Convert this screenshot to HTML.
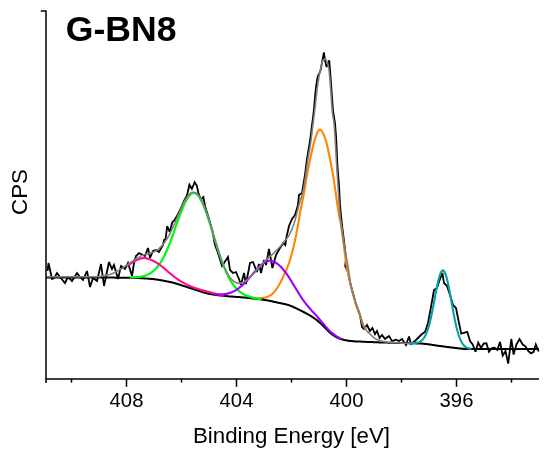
<!DOCTYPE html>
<html><head><meta charset="utf-8"><title>G-BN8</title>
<style>
html,body{margin:0;padding:0;background:#fff;}
body{width:550px;height:457px;overflow:hidden;}
svg{display:block;}
text{font-family:"Liberation Sans",sans-serif;fill:#000;}
</style></head><body>
<svg width="550" height="457" viewBox="0 0 550 457">
<rect width="550" height="457" fill="#fff"/>
<g fill="none" stroke-linejoin="round" stroke-linecap="butt">
<path d="M47.5,271.0 L48.5,263.0 L52.0,279.0 L54.0,278.0 L57.0,273.0 L60.0,277.0 L65.0,283.0 L68.0,277.0 L72.0,281.0 L77.0,273.0 L80.0,277.0 L83.0,280.0 L87.0,271.0 L90.0,287.0 L93.0,278.0 L97.0,281.0 L101.0,264.0 L104.0,286.0 L109.0,262.0 L112.0,269.0 L114.0,265.0 L118.0,279.0 L121.0,266.0 L125.0,269.0 L128.0,263.0 L132.0,276.0 L134.0,263.0 L136.0,256.0 L139.0,253.0 L145.0,256.0 L148.0,248.0 L150.0,258.0 L153.0,251.0 L156.0,250.0 L159.0,252.0 L163.0,245.0 L164.0,240.0 L165.6,239.0 L167.2,226.0 L169.7,232.0 L172.2,222.5 L174.6,220.0 L177.0,216.0 L178.7,212.6 L181.0,208.0 L184.0,201.0 L187.0,195.4 L189.4,184.7 L191.9,188.8 L194.7,182.2 L196.8,185.5 L198.4,193.0 L200.9,199.5 L203.4,197.0 L205.0,206.0 L207.5,214.0 L210.0,222.5 L212.4,230.7 L214.0,240.0 L215.0,245.0 L218.0,253.0 L222.0,266.0 L228.0,257.0 L230.0,270.0 L233.0,273.0 L236.0,272.0 L239.0,279.0 L241.0,285.0 L244.0,273.0 L246.0,284.0 L250.0,263.0 L253.0,262.0 L257.0,272.0 L259.0,264.0 L261.0,273.0 L264.0,260.0 L266.0,265.0 L269.0,249.0 L272.4,268.0 L276.0,255.0 L280.0,248.0 L283.5,243.0 L285.3,245.0 L286.5,237.0 L289.0,226.0 L292.0,219.0 L295.0,215.0 L298.0,205.0 L299.0,195.0 L302.0,193.0 L305.0,175.0 L307.0,159.0 L310.0,141.0 L312.0,125.0 L312.6,121.0 L314.0,109.0 L315.0,97.0 L316.0,87.0 L317.6,77.0 L320.7,70.0 L322.5,60.0 L323.9,52.5 L325.0,60.0 L326.6,67.0 L328.3,63.0 L329.2,60.3 L330.2,72.0 L331.0,83.0 L332.0,97.0 L333.0,111.0 L335.0,123.0 L336.0,136.0 L336.5,145.0 L337.4,165.0 L339.0,185.0 L340.0,205.0 L342.0,225.0 L344.5,245.0 L346.0,258.0 L345.2,266.0 L347.6,271.0 L351.0,286.0 L354.0,297.0 L356.0,304.0 L360.0,315.0 L362.0,327.0 L364.0,329.0 L367.0,325.0 L370.0,331.0 L372.4,328.0 L375.0,334.0 L377.0,331.0 L379.6,338.0 L382.0,335.0 L385.0,339.0 L389.0,336.0 L392.0,341.0 L396.0,339.6 L399.0,341.0 L402.0,339.0 L406.0,345.0 L409.0,336.5 L411.0,344.0 L415.0,341.0 L419.0,337.0 L422.0,334.0 L425.0,332.0 L428.0,323.0 L431.0,307.0 L434.0,290.0 L437.0,288.0 L440.0,279.0 L442.4,273.0 L444.0,283.0 L447.0,286.0 L450.0,295.0 L453.0,305.0 L456.0,308.0 L459.0,323.0 L461.3,333.6 L467.3,331.8 L470.0,341.0 L472.7,344.5 L475.5,351.8 L478.2,342.7 L481.0,348.0 L483.6,343.6 L486.4,343.3 L489.0,351.8 L491.8,348.0 L494.5,347.6 L497.3,350.0 L500.0,341.8 L502.7,355.5 L505.5,351.0 L508.2,363.6 L511.3,339.0 L513.6,354.5 L516.4,344.5 L519.5,339.0 L522.7,344.5 L525.5,346.4 L528.2,351.0 L531.0,353.3 L533.6,351.8 L535.8,344.5 L538.7,351.5" stroke="#000" stroke-width="1.8" stroke-linejoin="miter" stroke-miterlimit="3"/>
<path d="M255.0,298.8 L255.5,298.8 L256.0,298.7 L256.5,298.7 L257.0,298.6 L257.5,298.6 L258.0,298.5 L258.5,298.5 L259.0,298.4 L259.5,298.3 L260.0,298.3 L260.5,298.2 L261.0,298.2 L261.5,298.1 L262.0,298.1 L262.5,298.0 L263.0,297.9 L263.5,297.9 L264.0,297.8 L264.5,297.7 L265.0,297.6 L265.5,297.5 L266.0,297.4 L266.5,297.2 L267.0,297.0 L267.5,296.8 L268.0,296.6 L268.5,296.4 L269.0,296.1 L269.5,295.9 L270.0,295.6 L270.5,295.3 L271.0,295.0 L271.5,294.7 L272.0,294.3 L272.5,293.8 L273.0,293.3 L273.5,292.8 L274.0,292.2 L274.5,291.6 L275.0,291.0 L275.5,290.4 L276.0,289.7 L276.5,289.0 L277.0,288.3 L277.5,287.5 L278.0,286.7 L278.5,285.8 L279.0,285.0 L279.5,284.1 L280.0,283.2 L280.5,282.3 L281.0,281.3 L281.5,280.3 L282.0,279.3 L282.5,278.2 L283.0,277.2 L283.5,276.1 L284.0,275.0 L284.5,273.9 L285.0,272.8 L285.5,271.7 L286.0,270.6 L286.5,269.4 L287.0,268.3 L287.5,267.0 L288.0,265.7 L288.5,264.4 L289.0,263.0 L289.5,261.5 L290.0,260.0 L290.5,258.3 L291.0,256.6 L291.5,254.8 L292.0,253.0 L292.5,251.1 L293.0,249.1 L293.5,247.1 L294.0,245.0 L294.5,242.8 L295.0,240.5 L295.5,238.1 L296.0,235.6 L296.5,233.1 L297.0,230.4 L297.5,227.7 L298.0,225.0 L298.5,222.1 L299.0,219.0 L299.5,215.9 L300.0,213.0 L300.5,210.3 L301.0,207.8 L301.5,205.4 L302.0,203.0 L302.5,200.6 L303.0,198.2 L303.5,195.7 L304.0,193.0 L304.5,190.1 L305.0,187.1 L305.5,184.0 L306.0,180.9 L306.5,177.9 L307.0,175.0 L307.5,172.3 L308.0,169.6 L308.5,167.0 L309.0,164.5 L309.5,162.0 L310.0,159.6 L310.5,157.3 L311.0,155.0 L311.5,152.8 L312.0,150.6 L312.5,148.4 L313.0,146.3 L313.5,144.3 L314.0,142.4 L314.5,140.6 L315.0,139.0 L315.5,137.5 L316.0,136.0 L316.5,134.6 L317.0,133.4 L317.5,132.3 L318.0,131.5 L318.5,130.8 L319.0,130.1 L319.5,129.6 L320.0,129.4 L320.5,129.6 L321.0,130.1 L321.5,130.8 L322.0,131.5 L322.5,132.3 L323.0,133.2 L323.5,134.2 L324.0,135.4 L324.5,136.7 L325.0,138.0 L325.5,139.5 L326.0,141.0 L326.5,142.7 L327.0,144.6 L327.5,146.8 L328.0,149.1 L328.5,151.5 L329.0,154.0 L329.5,156.5 L330.0,159.0 L330.5,161.5 L331.0,164.0 L331.5,166.6 L332.0,169.3 L332.5,172.1 L333.0,175.0 L333.5,178.1 L334.0,181.3 L334.5,184.7 L335.0,188.2 L335.5,191.6 L336.0,195.0 L336.5,198.4 L337.0,201.9 L337.5,205.4 L338.0,208.8 L338.5,212.0 L339.0,215.0 L339.5,217.6 L340.0,219.9 L340.5,222.3 L341.0,225.0 L341.5,228.2 L342.0,231.8 L342.5,235.5 L343.0,239.3 L343.5,243.0 L344.0,246.9 L344.5,250.9 L345.0,254.7 L345.5,258.4 L346.0,261.8 L346.5,264.9 L347.0,267.9 L347.5,270.7 L348.0,273.3 L348.5,275.9 L349.0,278.3 L349.5,280.5 L350.0,282.7 L350.5,284.7 L351.0,286.7 L351.5,288.6 L352.0,290.5 L352.5,292.4 L353.0,294.3 L353.5,296.2 L354.0,298.0 L354.5,299.8 L355.0,301.6 L355.5,303.3 L356.0,304.9 L356.5,306.4 L357.0,307.8 L357.5,309.1 L358.0,310.4 L358.5,311.7 L359.0,312.9 L359.5,314.2 L360.0,315.5 L360.5,316.9 L361.0,318.4 L361.5,319.9 L362.0,321.5 L362.5,323.0 L363.0,324.3 L363.5,325.5 L364.0,326.5 L364.5,327.3 L365.0,328.1 L365.5,328.8 L366.0,329.5" stroke="#ff8500" stroke-width="2.1"/>
<path d="M46.0,277.6 L46.5,277.6 L47.0,277.6 L47.5,277.6 L48.0,277.6 L48.5,277.6 L49.0,277.6 L49.5,277.6 L50.0,277.6 L50.5,277.6 L51.0,277.6 L51.5,277.6 L52.0,277.6 L52.5,277.6 L53.0,277.6 L53.5,277.6 L54.0,277.6 L54.5,277.6 L55.0,277.6 L55.5,277.6 L56.0,277.6 L56.5,277.6 L57.0,277.6 L57.5,277.6 L58.0,277.6 L58.5,277.6 L59.0,277.6 L59.5,277.6 L60.0,277.6 L60.5,277.6 L61.0,277.6 L61.5,277.6 L62.0,277.6 L62.5,277.6 L63.0,277.6 L63.5,277.6 L64.0,277.6 L64.5,277.6 L65.0,277.6 L65.5,277.6 L66.0,277.6 L66.5,277.6 L67.0,277.6 L67.5,277.6 L68.0,277.6 L68.5,277.6 L69.0,277.6 L69.5,277.6 L70.0,277.6 L70.5,277.6 L71.0,277.6 L71.5,277.6 L72.0,277.6 L72.5,277.6 L73.0,277.6 L73.5,277.6 L74.0,277.6 L74.5,277.6 L75.0,277.6 L75.5,277.6 L76.0,277.6 L76.5,277.6 L77.0,277.6 L77.5,277.6 L78.0,277.6 L78.5,277.6 L79.0,277.6 L79.5,277.6 L80.0,277.6 L80.5,277.6 L81.0,277.6 L81.5,277.6 L82.0,277.6 L82.5,277.6 L83.0,277.6 L83.5,277.6 L84.0,277.6 L84.5,277.6 L85.0,277.6 L85.5,277.6 L86.0,277.6 L86.5,277.6 L87.0,277.6 L87.5,277.6 L88.0,277.6 L88.5,277.6 L89.0,277.6 L89.5,277.6 L90.0,277.6 L90.5,277.6 L91.0,277.6 L91.5,277.6 L92.0,277.6 L92.5,277.6 L93.0,277.6 L93.5,277.6 L94.0,277.6 L94.5,277.6 L95.0,277.6 L95.5,277.6 L96.0,277.6 L96.5,277.6 L97.0,277.6 L97.5,277.6 L98.0,277.6 L98.5,277.6 L99.0,277.6 L99.5,277.6 L100.0,277.6 L100.5,277.6 L101.0,277.6 L101.5,277.6 L102.0,277.6 L102.5,277.6 L103.0,277.6 L103.5,277.6 L104.0,277.6 L104.5,277.6 L105.0,277.6 L105.5,277.6 L106.0,277.6 L106.5,277.6 L107.0,277.6 L107.5,277.6 L108.0,277.6 L108.5,277.6 L109.0,277.6 L109.5,277.6 L110.0,277.6 L110.5,277.6 L111.0,277.6 L111.5,277.6 L112.0,277.6 L112.5,277.6 L113.0,277.6 L113.5,277.6 L114.0,277.6 L114.5,277.7 L115.0,277.7 L115.5,277.7 L116.0,277.7 L116.5,277.7 L117.0,277.7 L117.5,277.7 L118.0,277.7 L118.5,277.7 L119.0,277.7 L119.5,277.7 L120.0,277.7 L120.5,277.7 L121.0,277.7 L121.5,277.7 L122.0,277.7 L122.5,277.7 L123.0,277.7 L123.5,277.7 L124.0,277.7 L124.5,277.7 L125.0,277.7 L125.5,277.7 L126.0,277.8 L126.5,277.8 L127.0,277.8 L127.5,277.8 L128.0,277.8 L128.5,277.8 L129.0,277.8 L129.5,277.8 L130.0,277.8 L130.5,277.8 L131.0,277.8 L131.5,277.8 L132.0,277.8 L132.5,277.8 L133.0,277.9 L133.5,277.9 L134.0,277.9 L134.5,277.9 L135.0,277.9 L135.5,277.9 L136.0,278.0 L136.5,278.0 L137.0,278.0 L137.5,278.0 L138.0,278.0 L138.5,278.1 L139.0,278.1 L139.5,278.1 L140.0,278.1 L140.5,278.2 L141.0,278.2 L141.5,278.2 L142.0,278.3 L142.5,278.3 L143.0,278.3 L143.5,278.3 L144.0,278.4 L144.5,278.4 L145.0,278.4 L145.5,278.5 L146.0,278.5 L146.5,278.5 L147.0,278.6 L147.5,278.6 L148.0,278.7 L148.5,278.7 L149.0,278.7 L149.5,278.8 L150.0,278.8 L150.5,278.8 L151.0,278.9 L151.5,278.9 L152.0,279.0 L152.5,279.0 L153.0,279.1 L153.5,279.1 L154.0,279.2 L154.5,279.3 L155.0,279.3 L155.5,279.4 L156.0,279.5 L156.5,279.5 L157.0,279.6 L157.5,279.7 L158.0,279.7 L158.5,279.8 L159.0,279.9 L159.5,280.0 L160.0,280.1 L160.5,280.2 L161.0,280.2 L161.5,280.3 L162.0,280.4 L162.5,280.5 L163.0,280.6 L163.5,280.7 L164.0,280.8 L164.5,280.9 L165.0,281.0 L165.5,281.1 L166.0,281.2 L166.5,281.3 L167.0,281.4 L167.5,281.5 L168.0,281.6 L168.5,281.7 L169.0,281.8 L169.5,281.9 L170.0,282.0 L170.5,282.1 L171.0,282.2 L171.5,282.3 L172.0,282.5 L172.5,282.6 L173.0,282.7 L173.5,282.8 L174.0,283.0 L174.5,283.1 L175.0,283.2 L175.5,283.4 L176.0,283.5 L176.5,283.7 L177.0,283.8 L177.5,284.0 L178.0,284.1 L178.5,284.3 L179.0,284.5 L179.5,284.6 L180.0,284.8 L180.5,284.9 L181.0,285.1 L181.5,285.3 L182.0,285.4 L182.5,285.6 L183.0,285.8 L183.5,285.9 L184.0,286.1 L184.5,286.2 L185.0,286.4 L185.5,286.6 L186.0,286.7 L186.5,286.9 L187.0,287.1 L187.5,287.2 L188.0,287.4 L188.5,287.5 L189.0,287.7 L189.5,287.8 L190.0,288.0 L190.5,288.2 L191.0,288.3 L191.5,288.5 L192.0,288.6 L192.5,288.8 L193.0,288.9 L193.5,289.1 L194.0,289.3 L194.5,289.4 L195.0,289.6 L195.5,289.8 L196.0,289.9 L196.5,290.1 L197.0,290.3 L197.5,290.5 L198.0,290.6 L198.5,290.8 L199.0,291.0 L199.5,291.1 L200.0,291.3 L200.5,291.5 L201.0,291.6 L201.5,291.8 L202.0,291.9 L202.5,292.1 L203.0,292.3 L203.5,292.4 L204.0,292.5 L204.5,292.7 L205.0,292.8 L205.5,293.0 L206.0,293.1 L206.5,293.2 L207.0,293.4 L207.5,293.5 L208.0,293.6 L208.5,293.7 L209.0,293.8 L209.5,293.9 L210.0,294.0 L210.5,294.1 L211.0,294.2 L211.5,294.3 L212.0,294.3 L212.5,294.4 L213.0,294.5 L213.5,294.6 L214.0,294.7 L214.5,294.7 L215.0,294.8 L215.5,294.9 L216.0,294.9 L216.5,295.0 L217.0,295.1 L217.5,295.2 L218.0,295.2 L218.5,295.3 L219.0,295.3 L219.5,295.4 L220.0,295.5 L220.5,295.5 L221.0,295.6 L221.5,295.6 L222.0,295.7 L222.5,295.7 L223.0,295.8 L223.5,295.8 L224.0,295.9 L224.5,295.9 L225.0,296.0 L225.5,296.0 L226.0,296.1 L226.5,296.1 L227.0,296.2 L227.5,296.2 L228.0,296.3 L228.5,296.3 L229.0,296.4 L229.5,296.4 L230.0,296.4 L230.5,296.5 L231.0,296.5 L231.5,296.6 L232.0,296.6 L232.5,296.6 L233.0,296.7 L233.5,296.7 L234.0,296.7 L234.5,296.8 L235.0,296.8 L235.5,296.8 L236.0,296.9 L236.5,296.9 L237.0,297.0 L237.5,297.0 L238.0,297.0 L238.5,297.1 L239.0,297.1 L239.5,297.1 L240.0,297.2 L240.5,297.2 L241.0,297.3 L241.5,297.3 L242.0,297.3 L242.5,297.4 L243.0,297.4 L243.5,297.5 L244.0,297.5 L244.5,297.6 L245.0,297.6 L245.5,297.6 L246.0,297.7 L246.5,297.7 L247.0,297.8 L247.5,297.8 L248.0,297.9 L248.5,297.9 L249.0,298.0 L249.5,298.0 L250.0,298.1 L250.5,298.2 L251.0,298.2 L251.5,298.3 L252.0,298.3 L252.5,298.4 L253.0,298.4 L253.5,298.5 L254.0,298.5 L254.5,298.6 L255.0,298.7 L255.5,298.7 L256.0,298.8 L256.5,298.8 L257.0,298.9 L257.5,299.0 L258.0,299.0 L258.5,299.1 L259.0,299.2 L259.5,299.2 L260.0,299.3 L260.5,299.3 L261.0,299.4 L261.5,299.5 L262.0,299.6 L262.5,299.6 L263.0,299.7 L263.5,299.8 L264.0,299.8 L264.5,299.9 L265.0,300.0 L265.5,300.1 L266.0,300.2 L266.5,300.2 L267.0,300.3 L267.5,300.4 L268.0,300.5 L268.5,300.6 L269.0,300.7 L269.5,300.8 L270.0,300.9 L270.5,301.0 L271.0,301.1 L271.5,301.2 L272.0,301.3 L272.5,301.4 L273.0,301.5 L273.5,301.7 L274.0,301.8 L274.5,301.9 L275.0,302.0 L275.5,302.1 L276.0,302.2 L276.5,302.3 L277.0,302.4 L277.5,302.6 L278.0,302.7 L278.5,302.8 L279.0,302.9 L279.5,303.0 L280.0,303.1 L280.5,303.2 L281.0,303.3 L281.5,303.4 L282.0,303.5 L282.5,303.6 L283.0,303.7 L283.5,303.8 L284.0,303.9 L284.5,304.0 L285.0,304.1 L285.5,304.2 L286.0,304.4 L286.5,304.5 L287.0,304.6 L287.5,304.8 L288.0,304.9 L288.5,305.1 L289.0,305.2 L289.5,305.4 L290.0,305.6 L290.5,305.8 L291.0,306.0 L291.5,306.2 L292.0,306.4 L292.5,306.6 L293.0,306.8 L293.5,307.1 L294.0,307.3 L294.5,307.5 L295.0,307.7 L295.5,307.9 L296.0,308.2 L296.5,308.4 L297.0,308.7 L297.5,308.9 L298.0,309.2 L298.5,309.4 L299.0,309.7 L299.5,309.9 L300.0,310.2 L300.5,310.4 L301.0,310.7 L301.5,310.9 L302.0,311.2 L302.5,311.5 L303.0,311.7 L303.5,312.0 L304.0,312.2 L304.5,312.5 L305.0,312.7 L305.5,313.0 L306.0,313.3 L306.5,313.5 L307.0,313.8 L307.5,314.1 L308.0,314.4 L308.5,314.7 L309.0,314.9 L309.5,315.2 L310.0,315.5 L310.5,315.8 L311.0,316.1 L311.5,316.4 L312.0,316.8 L312.5,317.1 L313.0,317.4 L313.5,317.7 L314.0,318.1 L314.5,318.4 L315.0,318.8 L315.5,319.1 L316.0,319.5 L316.5,319.9 L317.0,320.3 L317.5,320.7 L318.0,321.1 L318.5,321.6 L319.0,322.0 L319.5,322.5 L320.0,322.9 L320.5,323.4 L321.0,323.9 L321.5,324.4 L322.0,324.9 L322.5,325.4 L323.0,325.8 L323.5,326.3 L324.0,326.8 L324.5,327.3 L325.0,327.8 L325.5,328.3 L326.0,328.8 L326.5,329.3 L327.0,329.8 L327.5,330.3 L328.0,330.8 L328.5,331.3 L329.0,331.8 L329.5,332.2 L330.0,332.7 L330.5,333.1 L331.0,333.5 L331.5,333.9 L332.0,334.2 L332.5,334.6 L333.0,335.0 L333.5,335.3 L334.0,335.7 L334.5,336.0 L335.0,336.3 L335.5,336.6 L336.0,336.9 L336.5,337.2 L337.0,337.5 L337.5,337.7 L338.0,337.9 L338.5,338.1 L339.0,338.3 L339.5,338.5 L340.0,338.7 L340.5,338.9 L341.0,339.0 L341.5,339.2 L342.0,339.3 L342.5,339.5 L343.0,339.6 L343.5,339.8 L344.0,339.9 L344.5,340.0 L345.0,340.1 L345.5,340.2 L346.0,340.3 L346.5,340.4 L347.0,340.5 L347.5,340.6 L348.0,340.6 L348.5,340.7 L349.0,340.8 L349.5,340.9 L350.0,340.9 L350.5,341.0 L351.0,341.0 L351.5,341.1 L352.0,341.1 L352.5,341.2 L353.0,341.2 L353.5,341.3 L354.0,341.3 L354.5,341.3 L355.0,341.4 L355.5,341.4 L356.0,341.4 L356.5,341.4 L357.0,341.5 L357.5,341.5 L358.0,341.5 L358.5,341.5 L359.0,341.6 L359.5,341.6 L360.0,341.6 L360.5,341.6 L361.0,341.6 L361.5,341.7 L362.0,341.7 L362.5,341.7 L363.0,341.7 L363.5,341.8 L364.0,341.8 L364.5,341.8 L365.0,341.8 L365.5,341.8 L366.0,341.9 L366.5,341.9 L367.0,341.9 L367.5,341.9 L368.0,342.0 L368.5,342.0 L369.0,342.0 L369.5,342.0 L370.0,342.0 L370.5,342.1 L371.0,342.1 L371.5,342.1 L372.0,342.1 L372.5,342.1 L373.0,342.1 L373.5,342.2 L374.0,342.2 L374.5,342.2 L375.0,342.2 L375.5,342.2 L376.0,342.3 L376.5,342.3 L377.0,342.3 L377.5,342.3 L378.0,342.3 L378.5,342.3 L379.0,342.4 L379.5,342.4 L380.0,342.4 L380.5,342.4 L381.0,342.4 L381.5,342.5 L382.0,342.5 L382.5,342.5 L383.0,342.5 L383.5,342.5 L384.0,342.5 L384.5,342.5 L385.0,342.6 L385.5,342.6 L386.0,342.6 L386.5,342.6 L387.0,342.6 L387.5,342.6 L388.0,342.7 L388.5,342.7 L389.0,342.7 L389.5,342.7 L390.0,342.7 L390.5,342.7 L391.0,342.7 L391.5,342.8 L392.0,342.8 L392.5,342.8 L393.0,342.8 L393.5,342.8 L394.0,342.8 L394.5,342.8 L395.0,342.9 L395.5,342.9 L396.0,342.9 L396.5,342.9 L397.0,342.9 L397.5,342.9 L398.0,342.9 L398.5,343.0 L399.0,343.0 L399.5,343.0 L400.0,343.0 L400.5,343.0 L401.0,343.0 L401.5,343.0 L402.0,343.1 L402.5,343.1 L403.0,343.1 L403.5,343.1 L404.0,343.1 L404.5,343.1 L405.0,343.1 L405.5,343.1 L406.0,343.1 L406.5,343.1 L407.0,343.2 L407.5,343.2 L408.0,343.2 L408.5,343.2 L409.0,343.2 L409.5,343.2 L410.0,343.2 L410.5,343.2 L411.0,343.2 L411.5,343.2 L412.0,343.3 L412.5,343.3 L413.0,343.3 L413.5,343.3 L414.0,343.3 L414.5,343.3 L415.0,343.3 L415.5,343.3 L416.0,343.4 L416.5,343.4 L417.0,343.4 L417.5,343.4 L418.0,343.4 L418.5,343.4 L419.0,343.5 L419.5,343.5 L420.0,343.5 L420.5,343.5 L421.0,343.5 L421.5,343.6 L422.0,343.6 L422.5,343.7 L423.0,343.7 L423.5,343.7 L424.0,343.8 L424.5,343.8 L425.0,343.9 L425.5,343.9 L426.0,344.0 L426.5,344.1 L427.0,344.1 L427.5,344.2 L428.0,344.3 L428.5,344.3 L429.0,344.4 L429.5,344.5 L430.0,344.5 L430.5,344.6 L431.0,344.7 L431.5,344.8 L432.0,344.8 L432.5,344.9 L433.0,345.0 L433.5,345.1 L434.0,345.1 L434.5,345.2 L435.0,345.3 L435.5,345.4 L436.0,345.4 L436.5,345.5 L437.0,345.6 L437.5,345.7 L438.0,345.7 L438.5,345.8 L439.0,345.9 L439.5,345.9 L440.0,346.0 L440.5,346.1 L441.0,346.1 L441.5,346.2 L442.0,346.3 L442.5,346.3 L443.0,346.4 L443.5,346.5 L444.0,346.5 L444.5,346.6 L445.0,346.7 L445.5,346.7 L446.0,346.8 L446.5,346.9 L447.0,346.9 L447.5,347.0 L448.0,347.1 L448.5,347.1 L449.0,347.2 L449.5,347.2 L450.0,347.3 L450.5,347.4 L451.0,347.4 L451.5,347.5 L452.0,347.5 L452.5,347.6 L453.0,347.7 L453.5,347.7 L454.0,347.8 L454.5,347.8 L455.0,347.9 L455.5,348.0 L456.0,348.0 L456.5,348.1 L457.0,348.2 L457.5,348.2 L458.0,348.3 L458.5,348.3 L459.0,348.4 L459.5,348.5 L460.0,348.5 L460.5,348.6 L461.0,348.6 L461.5,348.7 L462.0,348.7 L462.5,348.8 L463.0,348.8 L463.5,348.8 L464.0,348.9 L464.5,348.9 L465.0,348.9 L465.5,348.9 L466.0,349.0 L466.5,349.0 L467.0,349.0 L467.5,349.0 L468.0,349.0 L468.5,349.0 L469.0,349.0 L469.5,349.0 L470.0,349.0 L470.5,349.0 L471.0,349.0 L471.5,349.0 L472.0,349.0 L472.5,349.0 L473.0,349.0 L473.5,349.0 L474.0,349.0 L474.5,349.0 L475.0,349.0 L475.5,349.0 L476.0,349.0 L476.5,349.0 L477.0,349.0 L477.5,349.0 L478.0,349.0 L478.5,349.0 L479.0,349.0 L479.5,349.0 L480.0,349.0 L480.5,349.0 L481.0,349.0 L481.5,349.0 L482.0,349.0 L482.5,349.0 L483.0,349.0 L483.5,349.0 L484.0,349.0 L484.5,349.0 L485.0,349.0 L485.5,349.0 L486.0,349.0 L486.5,349.0 L487.0,349.0 L487.5,349.0 L488.0,349.0 L488.5,349.0 L489.0,349.0 L489.5,349.0 L490.0,349.0 L490.5,349.0 L491.0,349.0 L491.5,349.0 L492.0,349.0 L492.5,349.0 L493.0,349.0 L493.5,349.0 L494.0,349.0 L494.5,349.0 L495.0,349.0 L495.5,349.0 L496.0,349.0 L496.5,349.0 L497.0,349.0 L497.5,349.0 L498.0,349.0 L498.5,349.0 L499.0,349.0 L499.5,349.0 L500.0,349.0 L500.5,349.0 L501.0,349.0 L501.5,349.0 L502.0,349.0 L502.5,349.0 L503.0,349.0 L503.5,349.0 L504.0,349.0 L504.5,349.0 L505.0,349.0 L505.5,349.0 L506.0,349.0 L506.5,349.0 L507.0,349.0 L507.5,349.0 L508.0,349.0 L508.5,349.0 L509.0,349.0 L509.5,349.0 L510.0,349.0 L510.5,349.0 L511.0,349.0 L511.5,349.0 L512.0,349.0 L512.5,349.0 L513.0,349.0 L513.5,349.0 L514.0,349.0 L514.5,349.0 L515.0,349.0 L515.5,349.0 L516.0,349.0 L516.5,349.0 L517.0,349.0 L517.5,349.0 L518.0,349.0 L518.5,349.0 L519.0,349.0 L519.5,349.0 L520.0,349.0 L520.5,349.0 L521.0,349.0 L521.5,349.0 L522.0,349.0 L522.5,349.0 L523.0,349.0 L523.5,349.0 L524.0,349.0 L524.5,349.0 L525.0,349.0 L525.5,349.0 L526.0,349.0 L526.5,349.0 L527.0,349.0 L527.5,349.0 L528.0,349.0 L528.5,349.0 L529.0,349.0 L529.5,349.0 L530.0,349.0 L530.5,349.0 L531.0,349.0 L531.5,349.0 L532.0,349.0 L532.5,349.0 L533.0,349.0 L533.5,349.0 L534.0,349.0 L534.5,349.0 L535.0,349.0 L535.5,349.0 L536.0,349.0 L536.5,349.0 L537.0,349.0 L537.5,349.0 L538.0,349.0 L538.5,349.0 L539.0,349.0" stroke="#000" stroke-width="2"/>
<path d="M130.0,277.6 L130.5,277.6 L131.0,277.5 L131.5,277.5 L132.0,277.5 L132.5,277.5 L133.0,277.5 L133.5,277.4 L134.0,277.4 L134.5,277.4 L135.0,277.4 L135.5,277.3 L136.0,277.3 L136.5,277.3 L137.0,277.2 L137.5,277.2 L138.0,277.1 L138.5,277.1 L139.0,277.0 L139.5,276.9 L140.0,276.9 L140.5,276.8 L141.0,276.7 L141.5,276.6 L142.0,276.5 L142.5,276.4 L143.0,276.3 L143.5,276.2 L144.0,276.0 L144.5,275.9 L145.0,275.7 L145.5,275.6 L146.0,275.4 L146.5,275.2 L147.0,275.0 L147.5,274.8 L148.0,274.6 L148.5,274.3 L149.0,274.0 L149.5,273.8 L150.0,273.5 L150.5,273.2 L151.0,272.8 L151.5,272.5 L152.0,272.1 L152.5,271.7 L153.0,271.3 L153.5,270.9 L154.0,270.5 L154.5,270.0 L155.0,269.5 L155.5,269.0 L156.0,268.5 L156.5,267.9 L157.0,267.4 L157.5,266.8 L158.0,266.1 L158.5,265.5 L159.0,264.8 L159.5,264.1 L160.0,263.3 L160.5,262.6 L161.0,261.8 L161.5,261.0 L162.0,260.1 L162.5,259.2 L163.0,258.3 L163.5,257.4 L164.0,256.4 L164.5,255.4 L165.0,254.4 L165.5,253.3 L166.0,252.2 L166.5,251.1 L167.0,250.0 L167.5,248.8 L168.0,247.6 L168.5,246.4 L169.0,245.1 L169.5,243.9 L170.0,242.6 L170.5,241.2 L171.0,239.9 L171.5,238.6 L172.0,237.2 L172.5,235.8 L173.0,234.4 L173.5,233.1 L174.0,231.7 L174.5,230.2 L175.0,228.8 L175.5,227.4 L176.0,226.0 L176.5,224.6 L177.0,223.2 L177.5,221.8 L178.0,220.4 L178.5,219.0 L179.0,217.6 L179.5,216.2 L180.0,214.9 L180.5,213.6 L181.0,212.3 L181.5,211.0 L182.0,209.7 L182.5,208.5 L183.0,207.3 L183.5,206.1 L184.0,205.0 L184.5,203.9 L185.0,202.9 L185.5,201.8 L186.0,200.9 L186.5,200.0 L187.0,199.1 L187.5,198.3 L188.0,197.5 L188.5,196.8 L189.0,196.1 L189.5,195.5 L190.0,195.0 L190.5,194.5 L191.0,194.1 L191.5,193.7 L192.0,193.5 L192.5,193.2 L193.0,193.1 L193.5,193.0 L194.0,193.0 L194.5,193.1 L195.0,193.2 L195.5,193.4 L196.0,193.7 L196.5,194.0 L197.0,194.4 L197.5,194.9 L198.0,195.5 L198.5,196.1 L199.0,196.7 L199.5,197.5 L200.0,198.3 L200.5,199.1 L201.0,200.1 L201.5,201.0 L202.0,202.1 L202.5,203.1 L203.0,204.3 L203.5,205.5 L204.0,206.7 L204.5,208.0 L205.0,209.3 L205.5,210.6 L206.0,212.0 L206.5,213.4 L207.0,214.9 L207.5,216.4 L208.0,217.9 L208.5,219.4 L209.0,221.0 L209.5,222.5 L210.0,224.1 L210.5,225.7 L211.0,227.3 L211.5,228.9 L212.0,230.6 L212.5,232.2 L213.0,233.9 L213.5,235.5 L214.0,237.1 L214.5,238.8 L215.0,240.4 L215.5,242.0 L216.0,243.6 L216.5,245.2 L217.0,246.8 L217.5,248.4 L218.0,250.0 L218.5,251.5 L219.0,253.0 L219.5,254.5 L220.0,256.0 L220.5,257.5 L221.0,258.9 L221.5,260.3 L222.0,261.7 L222.5,263.0 L223.0,264.4 L223.5,265.7 L224.0,266.9 L224.5,268.2 L225.0,269.4 L225.5,270.6 L226.0,271.7 L226.5,272.8 L227.0,273.9 L227.5,274.9 L228.0,276.0 L228.5,276.9 L229.0,277.9 L229.5,278.8 L230.0,279.7 L230.5,280.6 L231.0,281.4 L231.5,282.2 L232.0,283.0 L232.5,283.7 L233.0,284.4 L233.5,285.1 L234.0,285.8 L234.5,286.4 L235.0,287.0 L235.5,287.6 L236.0,288.2 L236.5,288.7 L237.0,289.2 L237.5,289.7 L238.0,290.2 L238.5,290.6 L239.0,291.0 L239.5,291.5 L240.0,291.8 L240.5,292.2 L241.0,292.6 L241.5,292.9 L242.0,293.2 L242.5,293.5 L243.0,293.8 L243.5,294.1 L244.0,294.4 L244.5,294.7 L245.0,294.9 L245.5,295.1 L246.0,295.4 L246.5,295.6 L247.0,295.8 L247.5,296.0 L248.0,296.2 L248.5,296.3 L249.0,296.5 L249.5,296.7 L250.0,296.8 L250.5,297.0 L251.0,297.1 L251.5,297.3 L252.0,297.4 L252.5,297.5 L253.0,297.6 L253.5,297.8 L254.0,297.9 L254.5,298.0 L255.0,298.1 L255.5,298.2 L256.0,298.3 L256.5,298.4 L257.0,298.5 L257.5,298.6 L258.0,298.7 L258.5,298.8 L259.0,298.9 L259.5,299.0 L260.0,299.1 L260.5,299.1 L261.0,299.2 L261.5,299.3" stroke="#00f510" stroke-width="2.2"/>
<path d="M127.0,265.9 L127.5,265.6 L128.0,265.3 L128.5,264.9 L129.0,264.6 L129.5,264.3 L130.0,264.0 L130.5,263.7 L131.0,263.4 L131.5,263.1 L132.0,262.7 L132.5,262.4 L133.0,262.1 L133.5,261.8 L134.0,261.5 L134.5,261.2 L135.0,260.9 L135.5,260.6 L136.0,260.4 L136.5,260.1 L137.0,259.9 L137.5,259.7 L138.0,259.5 L138.5,259.3 L139.0,259.2 L139.5,259.0 L140.0,258.8 L140.5,258.6 L141.0,258.5 L141.5,258.4 L142.0,258.2 L142.5,258.1 L143.0,258.1 L143.5,258.0 L144.0,258.0 L144.5,258.0 L145.0,258.1 L145.5,258.1 L146.0,258.2 L146.5,258.4 L147.0,258.5 L147.5,258.7 L148.0,258.8 L148.5,259.0 L149.0,259.2 L149.5,259.3 L150.0,259.5 L150.5,259.7 L151.0,259.9 L151.5,260.1 L152.0,260.3 L152.5,260.5 L153.0,260.8 L153.5,261.0 L154.0,261.3 L154.5,261.6 L155.0,261.8 L155.5,262.1 L156.0,262.4 L156.5,262.7 L157.0,263.0 L157.5,263.4 L158.0,263.7 L158.5,264.0 L159.0,264.3 L159.5,264.7 L160.0,265.0 L160.5,265.3 L161.0,265.7 L161.5,266.1 L162.0,266.5 L162.5,266.9 L163.0,267.3 L163.5,267.7 L164.0,268.1 L164.5,268.5 L165.0,269.0 L165.5,269.4 L166.0,269.9 L166.5,270.3 L167.0,270.7 L167.5,271.2 L168.0,271.6 L168.5,272.1 L169.0,272.5 L169.5,272.9 L170.0,273.3 L170.5,273.7 L171.0,274.1 L171.5,274.5 L172.0,274.9 L172.5,275.3 L173.0,275.7 L173.5,276.1 L174.0,276.5 L174.5,276.9 L175.0,277.3 L175.5,277.6 L176.0,278.0 L176.5,278.4 L177.0,278.7 L177.5,279.1 L178.0,279.5 L178.5,279.8 L179.0,280.2 L179.5,280.5 L180.0,280.8 L180.5,281.1 L181.0,281.4 L181.5,281.7 L182.0,282.0 L182.5,282.3 L183.0,282.6 L183.5,282.8 L184.0,283.1 L184.5,283.4 L185.0,283.6 L185.5,283.9 L186.0,284.1 L186.5,284.4 L187.0,284.6 L187.5,284.9 L188.0,285.1 L188.5,285.3 L189.0,285.6 L189.5,285.8 L190.0,286.0 L190.5,286.2 L191.0,286.4 L191.5,286.6 L192.0,286.8 L192.5,287.0 L193.0,287.2 L193.5,287.4 L194.0,287.6 L194.5,287.8 L195.0,287.9 L195.5,288.1 L196.0,288.3 L196.5,288.5 L197.0,288.6 L197.5,288.8 L198.0,289.0 L198.5,289.1 L199.0,289.3 L199.5,289.4 L200.0,289.6 L200.5,289.8 L201.0,289.9 L201.5,290.0 L202.0,290.2 L202.5,290.3 L203.0,290.5 L203.5,290.6 L204.0,290.7 L204.5,290.9 L205.0,291.0 L205.5,291.1 L206.0,291.3 L206.5,291.4 L207.0,291.5 L207.5,291.7 L208.0,291.8 L208.5,291.9 L209.0,292.0 L209.5,292.2 L210.0,292.3 L210.5,292.4 L211.0,292.6 L211.5,292.7 L212.0,292.8 L212.5,293.0 L213.0,293.1 L213.5,293.2 L214.0,293.4 L214.5,293.5 L215.0,293.6 L215.5,293.7 L216.0,293.9 L216.5,294.0 L217.0,294.1 L217.5,294.2 L218.0,294.4 L218.5,294.5 L219.0,294.6 L219.5,294.7 L220.0,294.8 L220.5,294.9 L221.0,295.0 L221.5,295.1 L222.0,295.2 L222.5,295.3 L223.0,295.4 L223.5,295.4 L224.0,295.5" stroke="#ff0a8c" stroke-width="2.1"/>
<path d="M214.0,294.3 L214.5,294.3 L215.0,294.3 L215.5,294.4 L216.0,294.4 L216.5,294.4 L217.0,294.5 L217.5,294.5 L218.0,294.5 L218.5,294.5 L219.0,294.5 L219.5,294.5 L220.0,294.5 L220.5,294.5 L221.0,294.4 L221.5,294.4 L222.0,294.4 L222.5,294.3 L223.0,294.3 L223.5,294.3 L224.0,294.2 L224.5,294.1 L225.0,294.1 L225.5,294.0 L226.0,293.9 L226.5,293.8 L227.0,293.7 L227.5,293.6 L228.0,293.5 L228.5,293.3 L229.0,293.2 L229.5,293.0 L230.0,292.9 L230.5,292.7 L231.0,292.5 L231.5,292.3 L232.0,292.1 L232.5,291.9 L233.0,291.7 L233.5,291.4 L234.0,291.2 L234.5,290.9 L235.0,290.6 L235.5,290.4 L236.0,290.1 L236.5,289.7 L237.0,289.4 L237.5,289.1 L238.0,288.7 L238.5,288.4 L239.0,288.0 L239.5,287.6 L240.0,287.2 L240.5,286.8 L241.0,286.4 L241.5,286.0 L242.0,285.6 L242.5,285.1 L243.0,284.6 L243.5,284.2 L244.0,283.7 L244.5,283.2 L245.0,282.7 L245.5,282.2 L246.0,281.7 L246.5,281.1 L247.0,280.6 L247.5,280.1 L248.0,279.5 L248.5,278.9 L249.0,278.4 L249.5,277.8 L250.0,277.2 L250.5,276.7 L251.0,276.1 L251.5,275.5 L252.0,274.9 L252.5,274.3 L253.0,273.7 L253.5,273.1 L254.0,272.6 L254.5,272.0 L255.0,271.4 L255.5,270.8 L256.0,270.3 L256.5,269.7 L257.0,269.1 L257.5,268.6 L258.0,268.1 L258.5,267.5 L259.0,267.0 L259.5,266.5 L260.0,266.1 L260.5,265.6 L261.0,265.1 L261.5,264.7 L262.0,264.3 L262.5,263.9 L263.0,263.5 L263.5,263.1 L264.0,262.8 L264.5,262.5 L265.0,262.2 L265.5,261.9 L266.0,261.7 L266.5,261.5 L267.0,261.3 L267.5,261.1 L268.0,261.0 L268.5,260.9 L269.0,260.8 L269.5,260.8 L270.0,260.8 L270.5,260.8 L271.0,260.9 L271.5,260.9 L272.0,261.0 L272.5,261.2 L273.0,261.3 L273.5,261.5 L274.0,261.7 L274.5,261.9 L275.0,262.2 L275.5,262.5 L276.0,262.8 L276.5,263.1 L277.0,263.5 L277.5,263.9 L278.0,264.3 L278.5,264.7 L279.0,265.1 L279.5,265.6 L280.0,266.0 L280.5,266.5 L281.0,267.1 L281.5,267.6 L282.0,268.1 L282.5,268.7 L283.0,269.3 L283.5,269.8 L284.0,270.5 L284.5,271.1 L285.0,271.7 L285.5,272.4 L286.0,273.0 L286.5,273.7 L287.0,274.4 L287.5,275.1 L288.0,275.9 L288.5,276.6 L289.0,277.4 L289.5,278.2 L290.0,279.0 L290.5,279.8 L291.0,280.6 L291.5,281.4 L292.0,282.2 L292.5,283.0 L293.0,283.9 L293.5,284.7 L294.0,285.5 L294.5,286.3 L295.0,287.2 L295.5,288.0 L296.0,288.8 L296.5,289.6 L297.0,290.4 L297.5,291.3 L298.0,292.1 L298.5,292.9 L299.0,293.7 L299.5,294.5 L300.0,295.3 L300.5,296.0 L301.0,296.8 L301.5,297.6 L302.0,298.3 L302.5,299.1 L303.0,299.8 L303.5,300.5 L304.0,301.2 L304.5,301.9 L305.0,302.6 L305.5,303.2 L306.0,303.9 L306.5,304.5 L307.0,305.1 L307.5,305.7 L308.0,306.3 L308.5,306.9 L309.0,307.5 L309.5,308.1 L310.0,308.7 L310.5,309.3 L311.0,309.8 L311.5,310.4 L312.0,310.9 L312.5,311.5 L313.0,312.0 L313.5,312.6 L314.0,313.1 L314.5,313.7 L315.0,314.2 L315.5,314.7 L316.0,315.3 L316.5,315.8 L317.0,316.3 L317.5,316.9 L318.0,317.5 L318.5,318.1 L319.0,318.7 L319.5,319.3 L320.0,319.9 L320.5,320.5 L321.0,321.1 L321.5,321.7 L322.0,322.3 L322.5,322.9 L323.0,323.5 L323.5,324.1 L324.0,324.6 L324.5,325.2 L325.0,325.8 L325.5,326.4 L326.0,327.0 L326.5,327.5 L327.0,328.1 L327.5,328.7 L328.0,329.2 L328.5,329.8 L329.0,330.3 L329.5,330.8 L330.0,331.3 L330.5,331.7 L331.0,332.2 L331.5,332.6 L332.0,333.0 L332.5,333.4 L333.0,333.8 L333.5,334.2 L334.0,334.5 L334.5,334.9 L335.0,335.2 L335.5,335.6 L336.0,335.9 L336.5,336.2 L337.0,336.6 L337.5,336.9 L338.0,337.2 L338.5,337.5 L339.0,337.8 L339.5,338.0 L340.0,338.3 L340.5,338.6 L341.0,338.8 L341.5,339.0" stroke="#9b00ff" stroke-width="2.1"/>
<path d="M46.0,276.7 L46.5,276.7 L47.0,276.7 L47.5,276.7 L48.0,276.7 L48.5,276.7 L49.0,276.7 L49.5,276.7 L50.0,276.7 L50.5,276.7 L51.0,276.7 L51.5,276.7 L52.0,276.7 L52.5,276.7 L53.0,276.7 L53.5,276.7 L54.0,276.7 L54.5,276.7 L55.0,276.7 L55.5,276.7 L56.0,276.7 L56.5,276.7 L57.0,276.7 L57.5,276.7 L58.0,276.7 L58.5,276.7 L59.0,276.7 L59.5,276.7 L60.0,276.7 L60.5,276.7 L61.0,276.7 L61.5,276.7 L62.0,276.7 L62.5,276.7 L63.0,276.7 L63.5,276.7 L64.0,276.7 L64.5,276.7 L65.0,276.7 L65.5,276.7 L66.0,276.7 L66.5,276.7 L67.0,276.7 L67.5,276.7 L68.0,276.7 L68.5,276.7 L69.0,276.7 L69.5,276.7 L70.0,276.7 L70.5,276.7 L71.0,276.7 L71.5,276.7 L72.0,276.7 L72.5,276.7 L73.0,276.7 L73.5,276.7 L74.0,276.7 L74.5,276.7 L75.0,276.7 L75.5,276.7 L76.0,276.7 L76.5,276.7 L77.0,276.7 L77.5,276.7 L78.0,276.7 L78.5,276.7 L79.0,276.7 L79.5,276.7 L80.0,276.7 L80.5,276.7 L81.0,276.7 L81.5,276.7 L82.0,276.7 L82.5,276.7 L83.0,276.7 L83.5,276.7 L84.0,276.7 L84.5,276.7 L85.0,276.7 L85.5,276.7 L86.0,276.7 L86.5,276.7 L87.0,276.7 L87.5,276.7 L88.0,276.7 L88.5,276.7 L89.0,276.7 L89.5,276.7 L90.0,276.7 L90.5,276.7 L91.0,276.7 L91.5,276.7 L92.0,276.7 L92.5,276.7 L93.0,276.7 L93.5,276.7 L94.0,276.7 L94.5,276.7 L95.0,276.7 L95.5,276.7 L96.0,276.7 L96.5,276.7 L97.0,276.7 L97.5,276.7 L98.0,276.7 L98.5,276.7 L99.0,276.7 L99.5,276.7 L100.0,276.5 L100.5,276.4 L101.0,276.3 L101.5,276.2 L102.0,276.1 L102.5,276.0 L103.0,275.9 L103.5,275.8 L104.0,275.7 L104.5,275.6 L105.0,275.6 L105.5,275.5 L106.0,275.4 L106.5,275.3 L107.0,275.1 L107.5,275.0 L108.0,274.9 L108.5,274.8 L109.0,274.7 L109.5,274.5 L110.0,274.4 L110.5,274.2 L111.0,274.1 L111.5,273.9 L112.0,273.7 L112.5,273.5 L113.0,273.3 L113.5,273.0 L114.0,272.8 L114.5,272.6 L115.0,272.3 L115.5,272.1 L116.0,271.8 L116.5,271.5 L117.0,271.2 L117.5,271.0 L118.0,270.7 L118.5,270.4 L119.0,270.1 L119.5,269.8 L120.0,269.6 L120.5,269.3 L121.0,269.0 L121.5,268.7 L122.0,268.4 L122.5,268.0 L123.0,267.7 L123.5,267.4 L124.0,267.0 L124.5,266.7 L125.0,266.3 L125.5,266.0 L126.0,265.6 L126.5,265.3 L127.0,264.9 L127.5,264.6 L128.0,264.2 L128.5,263.9 L129.0,263.5 L129.5,263.2 L130.0,262.9 L130.5,262.5 L131.0,262.2 L131.5,261.9 L132.0,261.5 L132.5,261.2 L133.0,260.8 L133.5,260.5 L134.0,260.1 L134.5,259.8 L135.0,259.4 L135.5,259.1 L136.0,258.8 L136.5,258.5 L137.0,258.2 L137.5,257.9 L138.0,257.7 L138.5,257.4 L139.0,257.2 L139.5,256.9 L140.0,256.6 L140.5,256.4 L141.0,256.1 L141.5,255.8 L142.0,255.6 L142.5,255.4 L143.0,255.1 L143.5,254.9 L144.0,254.8 L144.5,254.6 L145.0,254.5 L145.5,254.3 L146.0,254.2 L146.5,254.1 L147.0,254.0 L147.5,253.9 L148.0,253.8 L148.5,253.7 L149.0,253.6 L149.5,253.4 L150.0,253.3 L150.5,253.1 L151.0,252.9 L151.5,252.8 L152.0,252.6 L152.5,252.4 L153.0,252.2 L153.5,252.0 L154.0,251.8 L154.5,251.5 L155.0,251.3 L155.5,251.0 L156.0,250.7 L156.5,250.4 L157.0,250.1 L157.5,249.7 L158.0,249.4 L158.5,249.0 L159.0,248.6 L159.5,248.1 L160.0,247.6 L160.5,247.1 L161.0,246.6 L161.5,246.1 L162.0,245.5 L162.5,245.0 L163.0,244.4 L163.5,243.8 L164.0,243.2 L164.5,242.5 L165.0,241.8 L165.5,241.1 L166.0,240.4 L166.5,239.6 L167.0,238.8 L167.5,238.0 L168.0,237.2 L168.5,236.3 L169.0,235.4 L169.5,234.4 L170.0,233.5 L170.5,232.5 L171.0,231.4 L171.5,230.4 L172.0,229.3 L172.5,228.2 L173.0,227.1 L173.5,226.0 L174.0,224.9 L174.5,223.7 L175.0,222.6 L175.5,221.4 L176.0,220.2 L176.5,219.0 L177.0,217.9 L177.5,216.7 L178.0,215.5 L178.5,214.3 L179.0,213.2 L179.5,212.0 L180.0,210.9 L180.5,209.7 L181.0,208.6 L181.5,207.5 L182.0,206.4 L182.5,205.3 L183.0,204.2 L183.5,203.2 L184.0,202.2 L184.5,201.3 L185.0,200.4 L185.5,199.5 L186.0,198.6 L186.5,197.9 L187.0,197.1 L187.5,196.4 L188.0,195.7 L188.5,195.1 L189.0,194.6 L189.5,194.1 L190.0,193.6 L190.5,193.2 L191.0,192.9 L191.5,192.6 L192.0,192.4 L192.5,192.3 L193.0,192.2 L193.5,192.2 L194.0,192.2 L194.5,192.4 L195.0,192.5 L195.5,192.7 L196.0,193.0 L196.5,193.3 L197.0,193.7 L197.5,194.2 L198.0,194.7 L198.5,195.3 L199.0,196.0 L199.5,196.7 L200.0,197.5 L200.5,198.3 L201.0,199.2 L201.5,200.2 L202.0,201.2 L202.5,202.2 L203.0,203.4 L203.5,204.5 L204.0,205.7 L204.5,207.0 L205.0,208.3 L205.5,209.6 L206.0,211.0 L206.5,212.4 L207.0,213.8 L207.5,215.3 L208.0,216.8 L208.5,218.3 L209.0,219.9 L209.5,221.4 L210.0,223.0 L210.5,224.7 L211.0,226.3 L211.5,227.9 L212.0,229.6 L212.5,231.2 L213.0,232.9 L213.5,234.6 L214.0,236.3 L214.5,237.9 L215.0,239.6 L215.5,241.3 L216.0,242.9 L216.5,244.5 L217.0,246.1 L217.5,247.7 L218.0,249.3 L218.5,250.9 L219.0,252.4 L219.5,253.9 L220.0,255.4 L220.5,256.8 L221.0,258.2 L221.5,259.6 L222.0,260.9 L222.5,262.2 L223.0,263.5 L223.5,264.7 L224.0,265.9 L224.5,267.1 L225.0,268.2 L225.5,269.3 L226.0,270.4 L226.5,271.4 L227.0,272.4 L227.5,273.3 L228.0,274.2 L228.5,275.1 L229.0,275.9 L229.5,276.6 L230.0,277.3 L230.5,278.0 L231.0,278.6 L231.5,279.2 L232.0,279.7 L232.5,280.2 L233.0,280.7 L233.5,281.1 L234.0,281.5 L234.5,281.8 L235.0,282.2 L235.5,282.4 L236.0,282.6 L236.5,282.8 L237.0,283.0 L237.5,283.1 L238.0,283.2 L238.5,283.2 L239.0,283.3 L239.5,283.3 L240.0,283.2 L240.5,283.1 L241.0,283.0 L241.5,282.9 L242.0,282.8 L242.5,282.6 L243.0,282.4 L243.5,282.1 L244.0,281.9 L244.5,281.6 L245.0,281.3 L245.5,281.0 L246.0,280.6 L246.5,280.3 L247.0,279.9 L247.5,279.5 L248.0,279.1 L248.5,278.6 L249.0,278.2 L249.5,277.7 L250.0,277.3 L250.5,276.8 L251.0,276.3 L251.5,275.8 L252.0,275.3 L252.5,274.8 L253.0,274.2 L253.5,273.7 L254.0,273.2 L254.5,272.7 L255.0,272.1 L255.5,271.6 L256.0,271.0 L256.5,270.4 L257.0,269.8 L257.5,269.1 L258.0,268.5 L258.5,267.9 L259.0,267.3 L259.5,266.7 L260.0,266.1 L260.5,265.6 L261.0,265.0 L261.5,264.5 L262.0,263.9 L262.5,263.4 L263.0,262.9 L263.5,262.3 L264.0,261.8 L264.5,261.4 L265.0,260.9 L265.5,260.4 L266.0,259.9 L266.5,259.5 L267.0,259.0 L267.5,258.5 L268.0,258.1 L268.5,257.6 L269.0,257.2 L269.5,256.8 L270.0,256.4 L270.5,256.0 L271.0,255.6 L271.5,255.2 L272.0,254.8 L272.5,254.3 L273.0,253.8 L273.5,253.3 L274.0,252.9 L274.5,252.4 L275.0,251.9 L275.5,251.4 L276.0,250.9 L276.5,250.4 L277.0,249.9 L277.5,249.4 L278.0,248.8 L278.5,248.3 L279.0,247.7 L279.5,247.2 L280.0,246.6 L280.5,246.1 L281.0,245.5 L281.5,244.9 L282.0,244.3 L282.5,243.6 L283.0,243.0 L283.5,242.4 L284.0,241.8 L284.5,241.2 L285.0,240.6 L285.5,240.0 L286.0,239.5 L286.5,238.8 L287.0,238.2 L287.5,237.5 L288.0,236.8 L288.5,236.0 L289.0,235.2 L289.5,234.3 L290.0,233.3 L290.5,232.3 L291.0,231.3 L291.5,230.2 L292.0,229.0 L292.5,227.8 L293.0,226.5 L293.5,225.1 L294.0,223.7 L294.5,222.1 L295.0,220.5 L295.5,218.7 L296.0,216.9 L296.5,214.9 L297.0,212.9 L297.5,210.8 L298.0,208.7 L298.5,206.7 L299.0,204.8 L299.5,203.1 L300.0,201.6 L300.5,200.0 L301.0,198.5 L301.5,196.9 L302.0,195.1 L302.5,193.2 L303.0,191.1 L303.5,188.7 L304.0,186.0 L304.5,183.2 L305.0,180.1 L305.5,176.9 L306.0,173.6 L306.5,169.9 L307.0,166.0 L307.5,162.1 L308.0,158.7 L308.5,155.6 L309.0,152.8 L309.5,150.0 L310.0,147.1 L310.5,144.0 L311.0,140.6 L311.5,136.7 L312.0,132.6 L312.5,128.4 L313.0,124.4 L313.5,120.5 L314.0,116.5 L314.5,112.5 L315.0,108.3 L315.5,103.7 L316.0,99.0 L316.5,94.5 L317.0,90.4 L317.5,86.7 L318.0,83.1 L318.5,79.8 L319.0,76.9 L319.5,74.2 L320.0,71.7 L320.5,69.4 L321.0,67.1 L321.5,64.6 L322.0,62.3 L322.5,61.0 L323.0,60.3 L323.5,59.8 L324.0,59.4 L324.5,59.1 L325.0,59.0 L325.5,59.2 L326.0,59.8 L326.5,60.7 L327.0,61.6 L327.5,62.9 L328.0,64.7 L328.5,67.0 L329.0,70.0 L329.5,74.8 L330.0,80.6 L330.5,86.9 L331.0,94.1 L331.5,101.5 L332.0,108.8 L332.5,113.6 L333.0,116.8 L333.5,119.7 L334.0,123.2 L334.5,128.7 L335.0,136.7 L335.5,145.1 L336.0,154.4 L336.5,163.3 L337.0,171.1 L337.5,178.5 L338.0,186.4 L338.5,194.7 L339.0,202.4 L339.5,208.6 L340.0,214.0 L340.5,218.9 L341.0,223.3 L341.5,227.4 L342.0,231.3 L342.5,235.0 L343.0,238.4 L343.5,241.7 L344.0,244.8 L344.5,247.8 L345.0,250.5 L345.5,253.1 L346.0,255.6 L346.5,258.0 L347.0,260.5 L347.5,263.2 L348.0,266.0 L348.5,269.2 L349.0,272.8 L349.5,276.4 L350.0,280.0 L350.5,283.3 L351.0,286.0 L351.5,288.2 L352.0,290.2 L352.5,291.9 L353.0,293.6 L353.5,295.3 L354.0,297.0 L354.5,298.8 L355.0,300.6 L355.5,302.4 L356.0,304.0 L356.5,305.5 L357.0,306.9 L357.5,308.3 L358.0,309.6 L358.5,310.9 L359.0,312.3 L359.5,313.6 L360.0,315.0 L360.5,316.5 L361.0,318.2 L361.5,319.9 L362.0,321.6 L362.5,323.2 L363.0,324.7 L363.5,326.0 L364.0,327.0 L364.5,327.8 L365.0,328.6 L365.5,329.3 L366.0,329.9 L366.5,330.5 L367.0,331.1 L367.5,331.6 L368.0,332.1 L368.5,332.6 L369.0,333.0 L369.5,333.5 L370.0,334.0 L370.5,334.5 L371.0,335.0 L371.5,335.5 L372.0,335.9 L372.5,336.4 L373.0,336.9 L373.5,337.3 L374.0,337.7 L374.5,338.1 L375.0,338.4 L375.5,338.7 L376.0,339.0 L376.5,339.2 L377.0,339.5 L377.5,339.7 L378.0,339.9 L378.5,340.1 L379.0,340.3 L379.5,340.5 L380.0,340.6 L380.5,340.8 L381.0,340.9 L381.5,341.1 L382.0,341.2 L382.5,341.3 L383.0,341.4 L383.5,341.5 L384.0,341.6 L384.5,341.7 L385.0,341.7 L385.5,341.8 L386.0,341.9 L386.5,341.9 L387.0,342.0 L387.5,342.1 L388.0,342.1 L388.5,342.2 L389.0,342.2 L389.5,342.3 L390.0,342.3 L390.5,342.4 L391.0,342.4 L391.5,342.4 L392.0,342.5 L392.5,342.5 L393.0,342.6 L393.5,342.6 L394.0,342.6 L394.5,342.7 L395.0,342.7 L395.5,342.7 L396.0,342.8 L396.5,342.8 L397.0,342.8 L397.5,342.9 L398.0,342.9 L398.5,342.9 L399.0,342.9 L399.5,343.0 L400.0,343.0 L400.5,343.0 L401.0,343.1 L401.5,343.1 L402.0,343.1 L402.5,343.1 L403.0,343.1 L403.5,343.2 L404.0,343.2 L404.5,343.2 L405.0,343.2 L405.5,343.2 L406.0,343.3 L406.5,343.3 L407.0,343.3 L407.5,343.3 L408.0,343.3 L408.5,343.3 L409.0,343.4 L409.5,343.4 L410.0,343.4 L410.5,343.4 L411.0,343.4 L411.5,343.4 L412.0,343.5 L412.5,343.5 L413.0,343.5" stroke="#808080" stroke-width="1.6"/>
<path d="M410.0,343.2 L410.5,343.2 L411.0,343.2 L411.5,343.2 L412.0,343.2 L412.5,343.2 L413.0,343.2 L413.5,343.1 L414.0,343.1 L414.5,343.1 L415.0,343.0 L415.5,343.0 L416.0,342.9 L416.5,342.8 L417.0,342.8 L417.5,342.6 L418.0,342.5 L418.5,342.4 L419.0,342.2 L419.5,342.0 L420.0,341.7 L420.5,341.4 L421.0,341.1 L421.5,340.7 L422.0,340.3 L422.5,339.8 L423.0,339.2 L423.5,338.6 L424.0,337.9 L424.5,337.1 L425.0,336.2 L425.5,335.3 L426.0,334.2 L426.5,333.0 L427.0,331.7 L427.5,330.3 L428.0,328.8 L428.5,327.2 L429.0,325.4 L429.5,323.6 L430.0,321.6 L430.5,319.5 L431.0,317.3 L431.5,315.0 L432.0,312.6 L432.5,310.1 L433.0,307.6 L433.5,305.0 L434.0,302.3 L434.5,299.7 L435.0,297.0 L435.5,294.3 L436.0,291.7 L436.5,289.2 L437.0,286.7 L437.5,284.3 L438.0,282.1 L438.5,280.0 L439.0,278.0 L439.5,276.3 L440.0,274.7 L440.5,273.4 L441.0,272.3 L441.5,271.4 L442.0,270.8 L442.5,270.5 L443.0,270.4 L443.5,270.6 L444.0,271.1 L444.5,271.8 L445.0,272.8 L445.5,274.0 L446.0,275.5 L446.5,277.2 L447.0,279.1 L447.5,281.2 L448.0,283.4 L448.5,285.8 L449.0,288.3 L449.5,290.9 L450.0,293.6 L450.5,296.3 L451.0,299.1 L451.5,301.9 L452.0,304.7 L452.5,307.5 L453.0,310.2 L453.5,312.9 L454.0,315.5 L454.5,318.1 L455.0,320.5 L455.5,322.9 L456.0,325.1 L456.5,327.2 L457.0,329.2 L457.5,331.1 L458.0,332.9 L458.5,334.5 L459.0,336.0 L459.5,337.4 L460.0,338.7 L460.5,339.9 L461.0,341.0 L461.5,341.9 L462.0,342.8 L462.5,343.6 L463.0,344.3 L463.5,345.0 L464.0,345.5 L464.5,346.0 L465.0,346.5 L465.5,346.8 L466.0,347.2 L466.5,347.5 L467.0,347.7 L467.5,347.9 L468.0,348.1 L468.5,348.2 L469.0,348.4 L469.5,348.5 L470.0,348.6 L470.5,348.6 L471.0,348.7 L471.5,348.8" stroke="#06a0a2" stroke-width="2.1"/>
</g>
<g stroke="#000" stroke-width="1.5" fill="none" stroke-linecap="butt">
<path d="M40.8,11 H46 V379 H539"/>
<line x1="46" y1="379" x2="46" y2="383"/>
<line x1="126.5" y1="379" x2="126.5" y2="386.8"/><line x1="236.5" y1="379" x2="236.5" y2="386.8"/><line x1="346.5" y1="379" x2="346.5" y2="386.8"/><line x1="456.5" y1="379" x2="456.5" y2="386.8"/><line x1="71.5" y1="379" x2="71.5" y2="382.6"/><line x1="181.5" y1="379" x2="181.5" y2="382.6"/><line x1="291.5" y1="379" x2="291.5" y2="382.6"/><line x1="401.5" y1="379" x2="401.5" y2="382.6"/><line x1="511.5" y1="379" x2="511.5" y2="382.6"/>
</g>
<text x="65.8" y="40.6" font-size="35.6" font-weight="bold">G-BN8</text>
<text x="126.5" y="407.3" text-anchor="middle" font-size="20.3">408</text><text x="236.5" y="407.3" text-anchor="middle" font-size="20.3">404</text><text x="346.5" y="407.3" text-anchor="middle" font-size="20.3">400</text><text x="456.5" y="407.3" text-anchor="middle" font-size="20.3">396</text>
<text x="291.5" y="443.2" text-anchor="middle" font-size="22.3">Binding Energy [eV]</text>
<text transform="translate(26.6,192) rotate(-90)" text-anchor="middle" font-size="22.3">CPS</text>
</svg>
</body></html>
